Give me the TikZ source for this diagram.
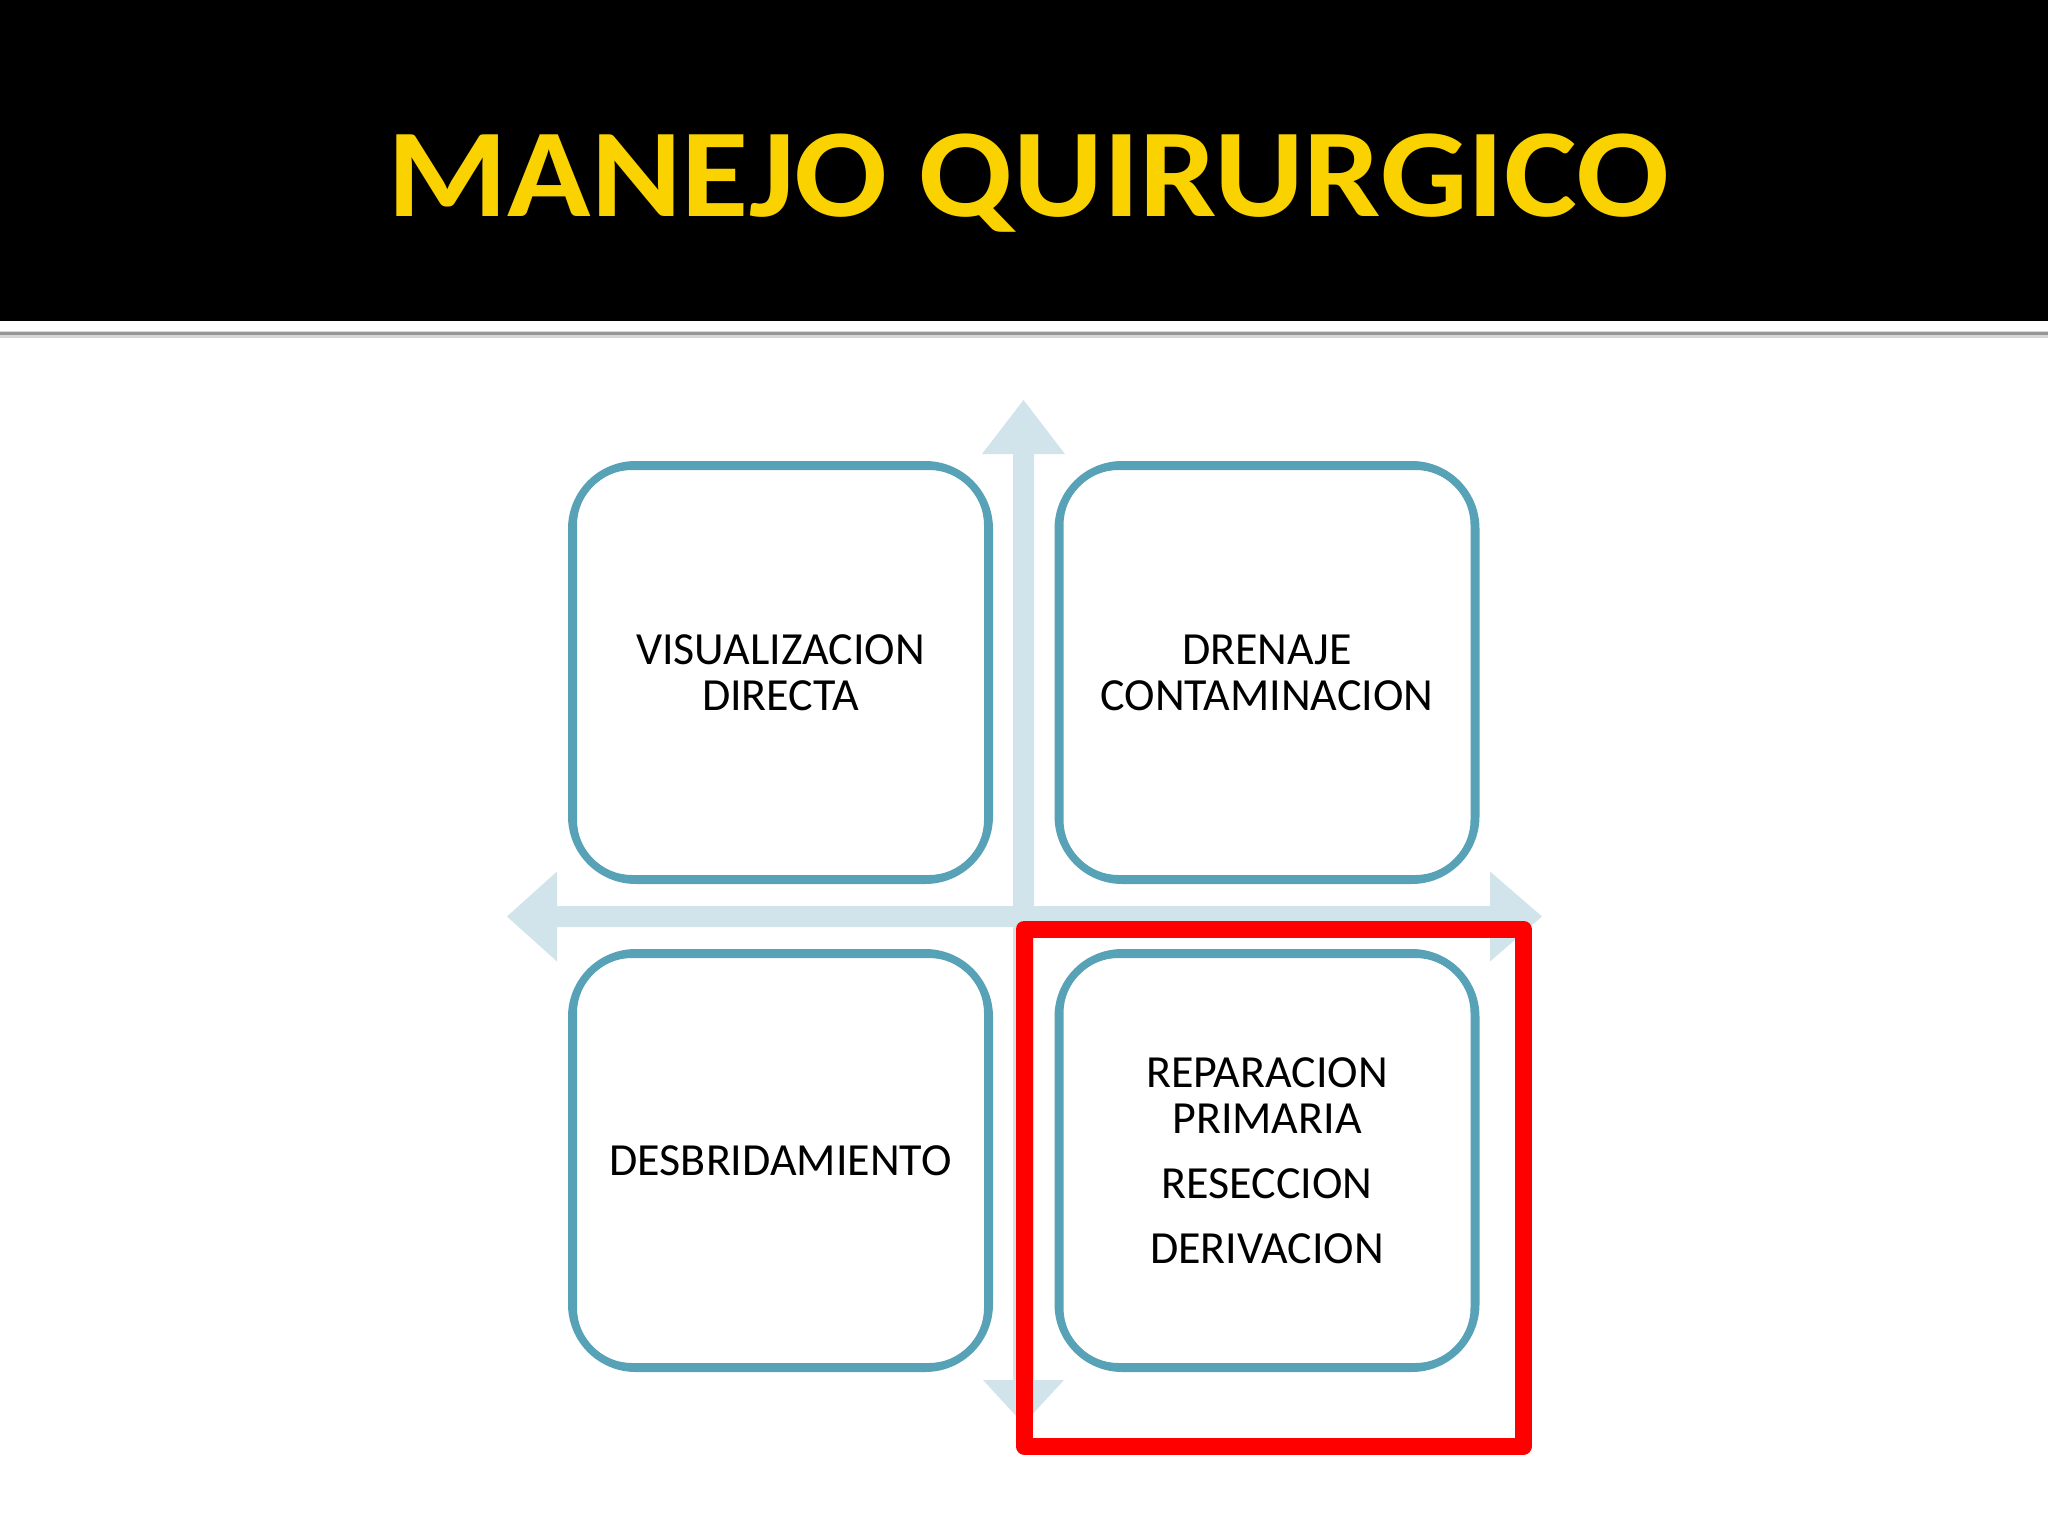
\documentclass[tikz,border=0pt]{standalone}
\usepackage{fontspec}
\setmainfont{Carlito}
\definecolor{boxteal}{RGB}{88,162,184}
\definecolor{axisblue}{RGB}{210,228,235}
\definecolor{titleyellow}{RGB}{250,210,0}
\definecolor{hlred}{RGB}{255,0,0}
\definecolor{ruleGray}{RGB}{150,150,150}
\definecolor{ruleLight}{RGB}{215,215,215}
\tikzset{
  quadbox/.style={draw=boxteal, line width=7.5pt, rounded corners=64pt,
    minimum width=417.5pt, minimum height=415.5pt, fill=white,
    align=center, font=\fontsize{46}{46}\selectfont, text=black, inner sep=0pt},
  boxinner/.style={draw=boxteal, line width=2pt, rounded corners=56pt},
  highlight/.style={draw=hlred, line width=17pt, line join=round,
    minimum width=499.5pt, minimum height=517pt, inner sep=0pt},
  titletext/.style={font=\fontsize{126}{126}\selectfont\bfseries, text=titleyellow, inner sep=0pt}
}
\newcommand\quadboxdraw[4]{%
  \node[quadbox] (#1) at (#2,#3) {#4};
  \draw[boxinner] ([shift={(8pt,8pt)}]#1.south west) rectangle ([shift={(-8pt,-8pt)}]#1.north east);
}
\begin{document}
\begin{tikzpicture}[x=1pt,y=-1pt]
\useasboundingbox (0,0) rectangle (2048,1536);
\fill[white] (0,0) rectangle (2048,1536);
% header
\node[fill=black, minimum width=2048pt, minimum height=321pt, inner sep=0pt, anchor=north west] (header) at (0,0) {};
\draw[ruleLight, line width=7pt] (0,334) -- (2048,334);
\draw[ruleGray, line width=3pt] (0,333.5) -- (2048,333.5);
\node[titletext, anchor=base] (title) at (1028.5,216) {\scalebox{1.092}[1]{MANEJO QUIRURGICO}};
% axes
\coordinate (axc) at (1023.5,916.5);
\fill[axisblue] (507,916.5) -- (557,871.5) -- (557,906) -- (1490,906) -- (1490,871.5) -- (1542,916.5) -- (1490,961.5) -- (1490,927) -- (557,927) -- (557,961.5) -- cycle;
\fill[axisblue] (1023.5,400) -- (1065,454) -- (1034,454) -- (1034,1380) -- (1064,1380) -- (1023.5,1424) -- (983,1380) -- (1013,1380) -- (1013,454) -- (982,454) -- cycle;
% boxes
\quadboxdraw{tl}{780.5}{672.5}{VISUALIZACION\\DIRECTA}
\quadboxdraw{tr}{1267}{672.5}{DRENAJE\\CONTAMINACION}
\quadboxdraw{bl}{780.5}{1160.5}{DESBRIDAMIENTO}
\quadboxdraw{br}{1267}{1160.5}{REPARACION\\PRIMARIA\\[19pt]RESECCION\\[19pt]DERIVACION}
% highlight
\node[highlight] (hl) at (1273.75,1187.5) {};
\end{tikzpicture}
\end{document}
